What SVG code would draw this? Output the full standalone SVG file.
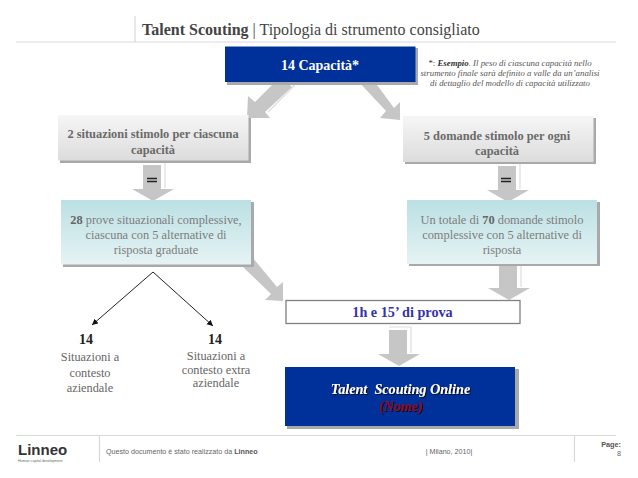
<svg xmlns="http://www.w3.org/2000/svg" width="638" height="478" viewBox="0 0 638 478">
<style>
text{font-family:"Liberation Serif",serif;text-anchor:middle}
.sans{font-family:"Liberation Sans",sans-serif}
.shadow{fill:#a9a9a9}
.blue{fill:#00309a}
.gray{fill:url(#gg)}
.teal{fill:url(#tg)}
.rule{stroke:#d9d9d9;stroke-width:1.2;fill:none}
.gt{font-size:12.4px;font-weight:bold;fill:#6a6a6a}
.tt{font-size:12.4px;fill:#7d7d7d}
.st{font-size:12.3px;fill:#666}
.note{font-size:8.8px;font-style:italic;fill:#555}
.arrow{fill:#c6c6c6}
.edge{fill:none;stroke:#dedede;stroke-width:1.2}
.eq{stroke:#222;stroke-width:1.3}
.line{stroke:#222;stroke-width:1;fill:none;marker-end:url(#ah)}
.n14{font-size:14px;font-weight:bold;fill:#222}
.tb{font-size:14.2px;font-weight:bold;font-style:italic;filter:url(#ts);white-space:pre}
</style>
<defs>
<linearGradient id="gg" x1="0" y1="0" x2="0" y2="1"><stop offset="0" stop-color="#f6f6f6"/><stop offset="1" stop-color="#dcdcdc"/></linearGradient>
<linearGradient id="tg" x1="0" y1="0" x2="0" y2="1"><stop offset="0" stop-color="#bbe0e3"/><stop offset="1" stop-color="#e6f3f4"/></linearGradient>
<filter id="ts" x="-10%" y="-20%" width="120%" height="150%"><feDropShadow dx="1" dy="1" stdDeviation="0.3" flood-color="#111"/></filter>
<marker id="ah" markerWidth="7" markerHeight="7" refX="6" refY="3" orient="auto"><path d="M0 0L6 3L0 6Z" fill="#111"/></marker>
<g id="down"><path class="edge" d="M0 0H22V26"/><path class="arrow" d="M0 3H18V27H31L10 39L-11 27H0Z"/></g>
</defs>

<g id="header">
<path class="rule" d="M16 42H616M135 16V42"/>
<text x="142" y="35" style="text-anchor:start" font-size="16" fill="#444"><tspan font-weight="bold">Talent Scouting</tspan> | Tipologia di strumento consigliato</text>
</g>

<g id="connectors">
<g id="arrow-top-left"><path class="edge" d="M282 74L294 86L268 112"/><path class="arrow" d="M281 76L292 87L265 112L270 118L247 118L248 96L255 102Z"/></g>
<g id="arrow-top-right"><path class="edge" d="M358 79L370 72"/><path class="arrow" d="M358 81L369 74L394 108L400 102V120L380 118L386 111Z"/></g>
<use href="#down" x="143" y="162"/>
<use href="#down" x="498" y="163"/>
<g id="arrow-mid-left"><path class="edge" d="M241 265L252 256"/><path class="arrow" d="M243 267L253 258L277 287L283 282V301L265 300L271 294Z"/></g>
<use href="#down" x="499" y="261"/>
<use href="#down" x="389" y="327"/>
<path class="line" d="M153 272L92 325"/>
<path class="line" d="M153 272L213 326"/>
<path class="eq" d="M147 178.500H157M147 181.500H157M501 178.500H511M501 181.500H511"/>
</g>

<g id="node-capacita">
<rect class="shadow" x="227" y="48" width="191" height="37"/>
<rect class="blue" x="225" y="46.500" width="190.500" height="35.500"/>
<text x="320" y="70" font-size="14" font-weight="bold" fill="#fff">14 Capacità*</text>
</g>
<g id="note">
<text class="note" x="510" y="66"><tspan font-style="normal" fill="#333">*:</tspan>  <tspan font-weight="bold" fill="#333">Esempio</tspan>. Il peso di ciascuna capacità nello</text>
<text class="note" x="510" y="76">strumento finale sarà definito a valle da un’analisi</text>
<text class="note" x="510" y="86">di dettaglio del modello di capacità utilizzato</text>
</g>

<g id="node-situazioni">
<rect class="shadow" x="60" y="118" width="191" height="45"/>
<rect class="gray" x="58" y="115" width="190.500" height="45.500"/>
<text class="gt" x="153" y="138">2 situazioni stimolo per ciascuna</text>
<text class="gt" x="153" y="154">capacità</text>
</g>
<g id="node-domande">
<rect class="shadow" x="405" y="118" width="191" height="46"/>
<rect class="gray" x="403" y="116" width="190.500" height="46"/>
<text class="gt" x="497" y="140">5 domande stimolo per ogni</text>
<text class="gt" x="497" y="155">capacità</text>
</g>
<g id="node-prove">
<rect class="shadow" x="63" y="202" width="191" height="65"/>
<rect class="teal" x="61" y="200" width="190" height="64.500"/>
<text class="tt" x="156" y="224"><tspan font-weight="bold" fill="#666">28</tspan> prove situazionali complessive,</text>
<text class="tt" x="156" y="239">ciascuna con 5 alternative di</text>
<text class="tt" x="156" y="254">risposta graduate</text>
</g>
<g id="node-totale">
<rect class="shadow" x="409" y="202" width="191" height="64"/>
<rect class="teal" x="407" y="200" width="190" height="64"/>
<text class="tt" x="502" y="224">Un totale di <tspan font-weight="bold" fill="#666">70</tspan> domande stimolo</text>
<text class="tt" x="502" y="239">complessive con 5 alternative di</text>
<text class="tt" x="502" y="254">risposta</text>
</g>
<g id="node-prova">
<rect x="286" y="300.500" width="234" height="23" fill="#fff" stroke="#808080" stroke-width="1.300"/>
<text x="402.500" y="316.500" font-size="14.200" font-weight="bold" fill="#3333aa">1h e 15’ di prova</text>
</g>
<g id="node-talent">
<rect class="shadow" x="287" y="369" width="232" height="60"/>
<rect class="blue" x="285" y="367" width="230" height="59"/>
<text class="tb" x="400.500" y="394" fill="#fff">Talent  Scouting Online</text>
<text class="tb" x="401" y="411" fill="#8a1030">(Nome)</text>
</g>
<g id="node-aziendale">
<text class="n14" x="86" y="344">14</text>
<text class="st" x="90" y="361">Situazioni a</text>
<text class="st" x="90" y="377">contesto</text>
<text class="st" x="90" y="392">aziendale</text>
</g>
<g id="node-extra">
<text class="n14" x="215" y="344">14</text>
<text class="st" x="216" y="360">Situazioni a</text>
<text class="st" x="216" y="374">contesto extra</text>
<text class="st" x="216" y="387">aziendale</text>
</g>

<g id="footer">
<path class="rule" d="M16 435.500H616M99.500 435V462M574.500 435V462"/>
<text class="sans" x="18" y="455" style="text-anchor:start" font-size="15" font-weight="bold" fill="#333">Linneo</text>
<text class="sans" x="18" y="462" style="text-anchor:start" font-size="3.600" fill="#666">Human capital development</text>
<text class="sans" x="106" y="454" style="text-anchor:start" font-size="7.150" fill="#666">Questo documento è stato realizzato da <tspan font-weight="bold" fill="#555">Linneo</tspan></text>
<text class="sans" x="449" y="454" font-size="7.150" fill="#666">| Milano, 2010|</text>
<text class="sans" x="621" y="447" style="text-anchor:end" font-size="7.300" font-weight="bold" fill="#555">Page:</text>
<text class="sans" x="621" y="456" style="text-anchor:end" font-size="7.300" fill="#666">8</text>
</g>
</svg>
